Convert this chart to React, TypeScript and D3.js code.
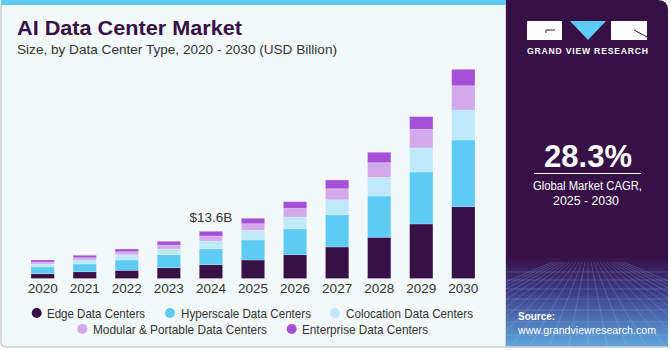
import React from "react";
import * as d3 from "d3";

const years = ["2020","2021","2022","2023","2024","2025","2026","2027","2028","2029","2030"];
const edge = [1.38, 1.96, 2.36, 3.11, 3.98, 5.33, 6.86, 9.08, 11.87, 15.71, 20.69];
const hyperscale = [1.93, 2.22, 2.97, 3.75, 4.61, 5.76, 7.49, 9.31, 11.9, 14.99, 19.22];
const colocation = [0.86, 1.15, 1.53, 1.64, 2.22, 2.8, 3.37, 4.32, 5.39, 6.92, 8.65];
const modular = [0.58, 0.66, 0.86, 1.15, 1.44, 1.9, 2.51, 3.17, 4.21, 5.39, 7.0];
const enterprise = [0.58, 0.69, 0.78, 1.07, 1.35, 1.56, 1.9, 2.51, 3.0, 3.63, 4.73];
const seriesNames = ["Edge Data Centers","Hyperscale Data Centers","Colocation Data Centers","Modular & Portable Data Centers","Enterprise Data Centers"];
const colors = ["#371047","#5ECBF5","#BDE9FA","#D4A9EC","#A550D8"];
const annotation = { year: "2024", text: "$13.6B" };

const FONT = "'Liberation Sans', Arial, sans-serif";

export default function App() {
  const W = 671, H = 350;
  const x = d3.scaleBand<string>().domain(years).range([31, 475]).paddingInner(0.446).paddingOuter(0);
  const y = d3.scaleLinear().domain([0, 60]).range([278.5, 70.3]);
  const table = years.map((yr, i) => ({
    year: yr, s0: edge[i], s1: hyperscale[i], s2: colocation[i], s3: modular[i], s4: enterprise[i],
  }));
  const keys = ["s0","s1","s2","s3","s4"];
  const stacked = d3.stack<any>().keys(keys)(table);
  const annIdx = years.indexOf(annotation.year);
  const annTotal = stacked[4][annIdx][1];

  const legendRows = [
    [{ i: 0, cx: 36.7, tx: 47, w: 98 }, { i: 1, cx: 170, tx: 181, w: 130 }, { i: 2, cx: 335, tx: 346, w: 127 }],
    [{ i: 3, cx: 82.3, tx: 93, w: 174 }, { i: 4, cx: 291.7, tx: 302, w: 126 }],
  ];
  const legendY = [313, 329];

  const vx = 588;
  const fan = d3.range(-12, 13);
  const horiz = [272, 280, 289, 299, 310, 322, 335, 349];

  return (
    <svg width={W} height={H} style={{ display: "block", position: "absolute", left: 0, top: 0 }} fontFamily={FONT}>
      <defs>
        <linearGradient id="pg" x1="0" y1="0" x2="0" y2="1">
          <stop offset="0" stopColor="#371047" />
          <stop offset="0.74" stopColor="#371047" />
          <stop offset="0.84" stopColor="#3f3a86" />
          <stop offset="1" stopColor="#5fa8e0" />
        </linearGradient>
        <clipPath id="pclip">
          <path d="M506,0 H658 Q668,0 668,10 V347 H506 Z" />
        </clipPath>
      </defs>
      <path d="M6,1 H506 V347 H6 Q1,347 1,342 V6 Q1,1 6,1 Z" fill="#F3F8FB" stroke="#cfcfcf" strokeWidth={1.5} />
      <rect x={1} y={0} width={505} height={5} fill="#5ECBF5" />
      <g clipPath="url(#pclip)">
        <rect x={506} y={0} width={162} height={347} fill="url(#pg)" />
        <g stroke="#9fd4f5" strokeOpacity={0.28} strokeWidth={0.8}>
          {fan.map((k) => (
            <line key={"f" + k} x1={vx + k * 3} y1={262} x2={vx + k * 22} y2={360} />
          ))}
          {horiz.map((hy) => (
            <line key={"h" + hy} x1={506} y1={hy} x2={668} y2={hy} />
          ))}
        </g>
      </g>
      <line x1={506} y1={347} x2={668} y2={347} stroke="#cfcfcf" strokeWidth={1.5} />
      <rect x={527} y={21} width={35} height={19} fill="#ffffff" />
      <path d="M555,30 H546 V33" stroke="#371047" strokeWidth={1} fill="none" />
      <path d="M570,21 H606 L588,40 Z" fill="#5ECBF5" />
      <rect x={611} y={21} width={36} height={19} fill="#ffffff" />
      <path d="M634,30 L647,37" stroke="#371047" strokeWidth={1} />
      <text x={527} y={54} fill="#ffffff" fontSize={8.6} fontWeight="bold" textLength={121} lengthAdjust="spacing">GRAND VIEW RESEARCH</text>
      <text x={544} y={167} fill="#ffffff" fontSize={32} fontWeight="bold" textLength={88} lengthAdjust="spacingAndGlyphs">28.3%</text>
      <line x1={534} y1={173.5} x2={641} y2={173.5} stroke="#ffffff" strokeWidth={1} />
      <text x={533} y={189.5} fill="#ffffff" fontSize={12.5} textLength={109} lengthAdjust="spacingAndGlyphs">Global Market CAGR,</text>
      <text x={553} y={205} fill="#ffffff" fontSize={12.5} textLength={66} lengthAdjust="spacingAndGlyphs">2025 - 2030</text>
      <text x={518} y={320} fill="#ffffff" fontSize={11.5} fontWeight="bold" textLength={37} lengthAdjust="spacingAndGlyphs">Source:</text>
      <text x={518} y={334} fill="#ffffff" fontSize={11.5} textLength={138} lengthAdjust="spacingAndGlyphs">www.grandviewresearch.com</text>
      <text x={17} y={35} fill="#371047" fontSize={20} fontWeight="bold" textLength={225} lengthAdjust="spacingAndGlyphs">AI Data Center Market</text>
      <text x={17} y={54} fill="#333333" fontSize={13.3} textLength={320} lengthAdjust="spacingAndGlyphs">Size, by Data Center Type, 2020 - 2030 (USD Billion)</text>
      {stacked.map((layer, li) => (
        <g key={layer.key} fill={colors[li]}>
          {layer.map((d, i) => (
            <rect key={i} x={x(years[i])!} y={y(d[1])} width={x.bandwidth()} height={y(d[0]) - y(d[1])}
              stroke="#ffffff" strokeOpacity={0.25} strokeWidth={0.8} />
          ))}
        </g>
      ))}
      {years.map((yr) => (
        <text key={yr} x={x(yr)! + x.bandwidth() / 2} y={293} textAnchor="middle" fill="#333333" fontSize={13.5}>{yr}</text>
      ))}
      <text x={x(annotation.year)! + x.bandwidth() / 2} y={y(annTotal) - 9.5} textAnchor="middle" fill="#333333" fontSize={13.5}>{annotation.text}</text>
      {legendRows.map((row, ri) => row.map((it) => (
        <g key={it.i}>
          <circle cx={it.cx} cy={legendY[ri]} r={5} fill={colors[it.i]} />
          <text x={it.tx} y={legendY[ri] + 4.5} fill="#333333" fontSize={13} textLength={it.w} lengthAdjust="spacingAndGlyphs">{seriesNames[it.i]}</text>
        </g>
      )))}
    </svg>
  );
}
